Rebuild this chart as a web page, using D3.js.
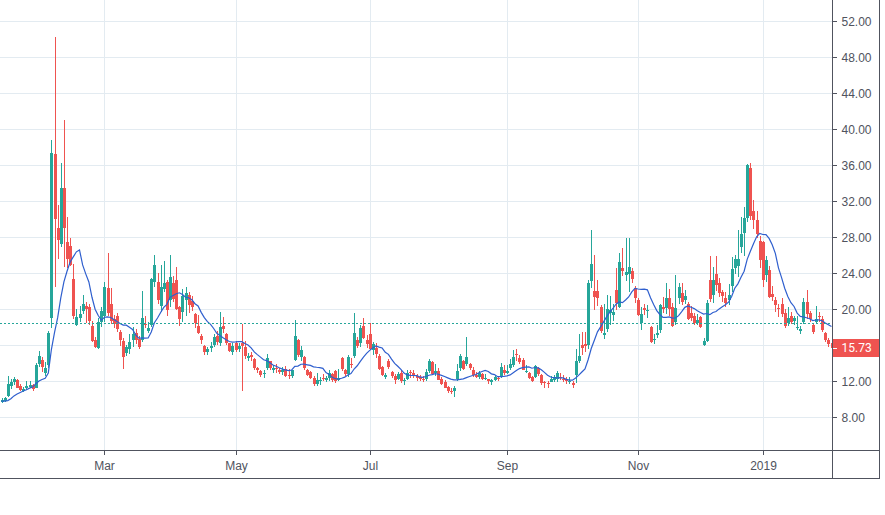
<!DOCTYPE html>
<html>
<head>
<meta charset="utf-8">
<script src="https://cdn.jsdelivr.net/npm/d3@7"></script>
<style>
  body { margin: 0; background: #fff; }
  svg { display: block; font-family: "Trebuchet MS", Roboto, sans-serif; }
</style>
</head>
<body>
<div id="chart"></div>
<script>
// trading days, one line per month (first rows only feed the moving average)
const dates = [
  "2017-12-28","2017-12-29",
  "2018-01-02","2018-01-03","2018-01-04","2018-01-05","2018-01-08","2018-01-09","2018-01-10","2018-01-11","2018-01-12","2018-01-16","2018-01-17","2018-01-18","2018-01-19","2018-01-22","2018-01-23","2018-01-24","2018-01-25","2018-01-26","2018-01-29","2018-01-30","2018-01-31",
  "2018-02-01","2018-02-02","2018-02-05","2018-02-06","2018-02-07","2018-02-08","2018-02-09","2018-02-12","2018-02-13","2018-02-14","2018-02-15","2018-02-16","2018-02-20","2018-02-21","2018-02-22","2018-02-23","2018-02-26","2018-02-27","2018-02-28",
  "2018-03-01","2018-03-02","2018-03-05","2018-03-06","2018-03-07","2018-03-08","2018-03-09","2018-03-12","2018-03-13","2018-03-14","2018-03-15","2018-03-16","2018-03-19","2018-03-20","2018-03-21","2018-03-22","2018-03-23","2018-03-26","2018-03-27","2018-03-28","2018-03-29",
  "2018-04-02","2018-04-03","2018-04-04","2018-04-05","2018-04-06","2018-04-09","2018-04-10","2018-04-11","2018-04-12","2018-04-13","2018-04-16","2018-04-17","2018-04-18","2018-04-19","2018-04-20","2018-04-23","2018-04-24","2018-04-25","2018-04-26","2018-04-27","2018-04-30",
  "2018-05-01","2018-05-02","2018-05-03","2018-05-04","2018-05-07","2018-05-08","2018-05-09","2018-05-10","2018-05-11","2018-05-14","2018-05-15","2018-05-16","2018-05-17","2018-05-18","2018-05-21","2018-05-22","2018-05-23","2018-05-24","2018-05-25","2018-05-29","2018-05-30","2018-05-31",
  "2018-06-01","2018-06-04","2018-06-05","2018-06-06","2018-06-07","2018-06-08","2018-06-11","2018-06-12","2018-06-13","2018-06-14","2018-06-15","2018-06-18","2018-06-19","2018-06-20","2018-06-21","2018-06-22","2018-06-25","2018-06-26","2018-06-27","2018-06-28","2018-06-29",
  "2018-07-02","2018-07-03","2018-07-05","2018-07-06","2018-07-09","2018-07-10","2018-07-11","2018-07-12","2018-07-13","2018-07-16","2018-07-17","2018-07-18","2018-07-19","2018-07-20","2018-07-23","2018-07-24","2018-07-25","2018-07-26","2018-07-27","2018-07-30","2018-07-31",
  "2018-08-01","2018-08-02","2018-08-03","2018-08-06","2018-08-07","2018-08-08","2018-08-09","2018-08-10","2018-08-13","2018-08-14","2018-08-15","2018-08-16","2018-08-17","2018-08-20","2018-08-21","2018-08-22","2018-08-23","2018-08-24","2018-08-27","2018-08-28","2018-08-29","2018-08-30","2018-08-31",
  "2018-09-04","2018-09-05","2018-09-06","2018-09-07","2018-09-10","2018-09-11","2018-09-12","2018-09-13","2018-09-14","2018-09-17","2018-09-18","2018-09-19","2018-09-20","2018-09-21","2018-09-24","2018-09-25","2018-09-26","2018-09-27","2018-09-28",
  "2018-10-01","2018-10-02","2018-10-03","2018-10-04","2018-10-05","2018-10-08","2018-10-09","2018-10-10","2018-10-11","2018-10-12","2018-10-15","2018-10-16","2018-10-17","2018-10-18","2018-10-19","2018-10-22","2018-10-23","2018-10-24","2018-10-25","2018-10-26","2018-10-29","2018-10-30","2018-10-31",
  "2018-11-01","2018-11-02","2018-11-05","2018-11-06","2018-11-07","2018-11-08","2018-11-09","2018-11-12","2018-11-13","2018-11-14","2018-11-15","2018-11-16","2018-11-19","2018-11-20","2018-11-21","2018-11-23","2018-11-26","2018-11-27","2018-11-28","2018-11-29","2018-11-30",
  "2018-12-03","2018-12-04","2018-12-06","2018-12-07","2018-12-10","2018-12-11","2018-12-12","2018-12-13","2018-12-14","2018-12-17","2018-12-18","2018-12-19","2018-12-20","2018-12-21","2018-12-24","2018-12-26","2018-12-27","2018-12-28","2018-12-31",
  "2019-01-02","2019-01-03","2019-01-04","2019-01-07","2019-01-08","2019-01-09","2019-01-10","2019-01-11","2019-01-14","2019-01-15","2019-01-16","2019-01-17","2019-01-18","2019-01-22","2019-01-23","2019-01-24","2019-01-25","2019-01-28","2019-01-29","2019-01-30","2019-01-31",
  "2019-02-01","2019-02-04"
];

const opens = [
  10.30, 10.20,
  10.95, 9.60, 9.10, 9.20, 9.60, 9.50, 10.30, 9.70, 9.80, 10.40, 11.50, 11.90, 12.10, 11.50, 10.90, 11.20, 11.40, 11.60, 11.30, 13.90, 14.40,
  12.90, 13.80, 19.00, 37.30, 29.00, 27.30, 33.50, 27.50, 27.00, 23.40, 18.30, 19.00, 19.80, 20.40, 20.20, 18.10, 16.60, 15.70, 18.60,
  19.20, 22.40, 20.60, 18.90, 19.30, 17.50, 16.50, 15.10, 15.60, 16.60, 17.40, 16.70, 16.60, 18.40, 17.60, 18.30, 23.00, 23.00, 20.40, 22.30, 23.00,
  21.00, 22.90, 23.30, 20.30, 19.70, 21.00, 21.60, 20.90, 19.50, 18.10, 17.00, 15.90, 15.30, 15.70, 16.00, 17.00, 16.30, 18.10, 17.20, 16.20, 15.20,
  16.30, 15.60, 16.20, 15.80, 14.60, 14.90, 14.50, 13.50, 13.10, 12.80, 13.50, 14.20, 13.30, 13.50, 13.30, 13.00, 13.40, 12.70, 12.60, 14.40, 16.60, 14.70,
  14.70, 13.20, 13.00, 12.40, 11.70, 12.00, 12.40, 12.10, 12.40, 12.80, 13.10, 12.10, 14.60, 13.20, 12.80, 13.90, 14.80, 16.60, 16.30, 18.10, 16.60,
  17.30, 15.50, 15.70, 14.80, 13.60, 12.50, 14.20, 13.00, 12.60, 12.30, 12.90, 12.00, 12.30, 13.00, 12.90, 12.60, 12.50, 12.30, 12.20, 13.10, 14.10,
  12.90, 13.10, 12.30, 11.90, 11.40, 10.90, 10.90, 12.20, 13.50, 14.30, 13.90, 13.90, 13.30, 12.70, 12.50, 12.80, 12.20, 12.20, 11.90, 12.10, 12.40, 12.60, 13.20,
  12.90, 13.50, 13.80, 15.00, 14.60, 14.40, 13.00, 12.90, 12.50, 12.50, 13.50, 12.70, 11.90, 11.80, 11.90, 12.10, 12.30, 12.50, 12.30,
  12.30, 11.90, 11.80, 12.70, 14.30, 16.00, 16.10, 16.00, 23.10, 22.00, 22.00, 20.30, 17.10, 17.80, 19.60, 19.40, 22.10, 20.30, 24.60, 23.80, 23.90, 24.20, 22.40,
  21.00, 18.50, 20.10, 19.80, 18.00, 16.60, 17.10, 17.70, 20.30, 20.10, 21.30, 20.30, 18.60, 21.20, 21.80, 21.00, 20.60, 19.60, 19.20, 18.50, 19.10,
  16.00, 16.50, 23.30, 21.60, 23.90, 22.90, 21.90, 21.20, 21.00, 22.60, 24.60, 24.80, 26.90, 28.50, 30.10, 35.70, 30.90, 29.90, 27.60,
  27.50, 23.80, 24.40, 21.70, 21.00, 20.10, 20.60, 19.60, 18.50, 19.30, 18.70, 18.00, 17.60, 18.60, 20.80, 19.60, 18.30, 18.60, 19.30, 18.90, 17.40,
  16.60, 16.20
];

const highs = [
  10.45, 11.10,
  10.99, 9.65, 9.31, 9.54, 10.00, 10.40, 10.50, 10.10, 10.30, 12.60, 12.30, 12.50, 12.20, 11.70, 11.40, 12.00, 12.00, 11.70, 14.00, 15.40, 14.70,
  14.10, 17.60, 38.80, 50.30, 31.60, 36.20, 41.06, 30.20, 27.90, 25.00, 20.00, 20.40, 21.60, 20.80, 20.60, 18.70, 16.90, 19.00, 20.20,
  23.00, 26.20, 22.40, 19.40, 19.60, 17.70, 16.80, 16.00, 17.20, 18.00, 17.80, 17.00, 22.00, 19.30, 18.60, 23.50, 26.00, 24.00, 24.90, 25.40, 23.20,
  26.00, 23.70, 24.70, 20.40, 22.20, 22.50, 21.90, 21.50, 19.60, 19.40, 17.30, 16.00, 15.80, 16.40, 17.20, 17.60, 19.70, 19.10, 17.40, 16.30, 16.20,
  16.50, 16.20, 18.40, 16.50, 15.10, 15.30, 14.60, 13.60, 13.20, 13.20, 15.00, 14.30, 13.80, 13.90, 13.50, 13.60, 13.70, 13.40, 13.30, 18.80, 16.70, 15.90,
  14.80, 13.40, 13.10, 12.60, 12.90, 12.50, 12.80, 12.60, 13.30, 12.90, 13.20, 13.40, 14.70, 13.40, 14.90, 14.60, 19.55, 16.90, 18.30, 19.00, 17.10,
  18.50, 16.40, 16.20, 15.00, 13.70, 12.90, 14.50, 13.10, 12.80, 13.00, 13.30, 12.40, 13.20, 13.30, 13.30, 12.80, 12.70, 12.60, 13.40, 14.50, 14.30,
  13.90, 13.50, 12.50, 12.10, 11.50, 11.20, 11.50, 13.90, 15.00, 14.40, 16.90, 14.00, 13.60, 13.00, 13.10, 12.90, 12.80, 12.30, 12.30, 12.70, 12.60, 14.00, 13.80,
  13.80, 14.50, 15.50, 15.60, 14.90, 14.60, 13.80, 13.00, 12.60, 13.80, 13.60, 12.80, 12.00, 12.00, 12.60, 12.70, 13.10, 12.90, 12.70,
  12.50, 12.50, 12.00, 15.60, 17.30, 17.50, 17.50, 23.20, 28.84, 26.00, 23.30, 20.50, 20.60, 21.60, 21.50, 20.60, 24.60, 26.20, 26.80, 27.90, 27.90, 24.60, 22.60,
  21.30, 20.20, 20.60, 20.50, 18.10, 17.20, 18.20, 20.60, 21.40, 22.90, 22.30, 20.70, 23.80, 22.90, 22.90, 22.10, 20.80, 20.40, 19.60, 19.50, 19.30,
  16.80, 21.00, 25.94, 24.70, 25.90, 23.50, 22.10, 21.90, 22.80, 25.80, 26.00, 28.80, 30.30, 31.40, 36.10, 36.20, 32.10, 30.90, 28.10,
  27.60, 25.90, 24.80, 22.60, 21.40, 20.60, 21.20, 20.00, 20.30, 19.70, 19.30, 19.20, 18.10, 21.20, 22.10, 19.80, 18.40, 20.40, 19.70, 19.20, 17.50,
  16.80, 16.30
];

const lows = [
  10.05, 10.10,
  9.52, 8.99, 8.92, 9.01, 9.43, 9.45, 9.70, 9.60, 9.70, 10.20, 11.10, 11.60, 11.20, 10.90, 10.80, 11.00, 11.20, 10.90, 11.20, 13.60, 13.00,
  12.60, 13.50, 17.90, 22.42, 25.60, 26.90, 24.70, 24.60, 24.80, 18.90, 18.10, 18.60, 19.50, 18.50, 18.20, 16.40, 15.70, 15.60, 18.00,
  18.60, 19.30, 18.40, 17.90, 17.50, 15.90, 13.40, 14.80, 15.00, 15.80, 16.10, 15.60, 16.40, 17.90, 17.40, 18.00, 22.50, 20.60, 19.70, 21.90, 19.30,
  20.30, 20.80, 19.90, 18.10, 18.60, 19.30, 19.60, 19.80, 17.90, 17.20, 16.10, 14.90, 14.90, 15.30, 15.80, 16.00, 15.90, 17.40, 16.00, 15.30, 14.90,
  15.30, 15.20, 10.95, 14.50, 14.30, 14.30, 13.20, 12.90, 12.50, 12.40, 13.30, 13.30, 12.90, 12.90, 12.80, 12.70, 12.50, 12.30, 12.40, 14.30, 14.70, 14.20,
  13.30, 12.60, 12.30, 11.50, 11.50, 11.60, 12.00, 11.90, 12.00, 11.90, 11.80, 12.00, 13.10, 12.60, 12.50, 13.50, 14.60, 15.70, 15.80, 16.70, 15.70,
  15.50, 14.90, 14.60, 13.30, 12.60, 12.30, 13.40, 12.40, 11.70, 12.10, 11.80, 11.60, 12.10, 12.40, 12.40, 12.00, 12.00, 11.90, 12.00, 12.90, 12.80,
  12.60, 12.10, 11.60, 11.20, 10.70, 10.60, 10.20, 12.00, 13.10, 13.20, 13.70, 13.20, 12.50, 12.40, 12.20, 12.10, 12.10, 11.70, 11.60, 12.00, 12.00, 12.40, 12.70,
  12.80, 13.20, 13.60, 14.20, 13.90, 13.20, 12.90, 12.20, 11.90, 12.40, 12.60, 11.60, 11.30, 11.20, 11.90, 11.90, 11.90, 12.10, 11.90,
  11.70, 11.70, 11.30, 11.80, 14.00, 14.90, 15.20, 15.60, 22.40, 19.90, 20.40, 17.40, 16.70, 17.50, 18.30, 18.70, 19.90, 20.10, 23.70, 23.10, 21.90, 22.90, 20.70,
  19.20, 17.70, 19.40, 19.00, 16.30, 16.10, 16.80, 17.40, 19.60, 19.50, 19.30, 18.00, 18.30, 20.60, 20.50, 20.60, 18.80, 18.70, 18.20, 18.20, 17.90,
  15.90, 16.40, 20.80, 20.70, 22.00, 21.40, 20.80, 20.20, 20.50, 21.90, 23.90, 23.60, 26.20, 25.90, 29.70, 29.90, 28.90, 27.90, 24.60,
  22.50, 23.00, 21.30, 20.90, 19.70, 19.10, 19.10, 17.90, 18.10, 18.40, 18.30, 17.70, 17.30, 18.40, 18.90, 18.60, 17.30, 18.40, 18.60, 17.50, 16.40,
  15.80, 15.60
];

const closes = [
  10.18, 11.04,
  9.77, 9.15, 9.22, 9.22, 9.52, 10.08, 9.82, 9.88, 10.16, 11.66, 11.91, 12.22, 11.27, 11.03, 11.10, 11.47, 11.58, 11.08, 13.84, 14.79, 13.54,
  13.47, 17.31, 37.32, 29.98, 27.73, 33.46, 29.06, 25.61, 24.97, 19.26, 19.13, 19.46, 20.60, 20.02, 18.72, 16.49, 15.80, 18.59, 19.85,
  22.47, 19.59, 18.73, 18.36, 17.76, 16.54, 14.64, 15.78, 16.35, 17.23, 16.59, 15.80, 19.02, 18.20, 17.86, 23.34, 24.87, 21.03, 22.50, 22.87, 19.97,
  23.62, 21.10, 20.06, 18.94, 21.49, 21.77, 20.47, 20.24, 18.49, 17.41, 16.56, 15.25, 15.60, 15.96, 16.88, 16.34, 18.02, 17.84, 16.24, 15.41, 15.93,
  15.49, 15.97, 15.90, 14.77, 14.75, 14.71, 13.42, 13.23, 12.65, 12.93, 14.63, 13.42, 13.43, 13.42, 13.08, 13.22, 12.58, 12.53, 13.22, 17.02, 14.94, 15.43,
  13.46, 12.74, 12.40, 11.64, 12.13, 12.18, 12.35, 12.34, 12.94, 12.12, 11.98, 12.31, 13.35, 12.79, 14.64, 13.77, 17.33, 15.92, 17.91, 16.85, 16.09,
  15.60, 16.14, 14.97, 13.37, 12.69, 12.64, 13.63, 12.58, 12.18, 12.83, 12.06, 12.10, 12.87, 12.86, 12.62, 12.41, 12.29, 12.14, 13.03, 14.26, 12.83,
  13.15, 12.19, 11.64, 11.27, 10.93, 10.85, 11.27, 13.16, 14.78, 13.31, 14.64, 13.45, 12.64, 12.49, 12.86, 12.25, 12.41, 11.99, 12.16, 12.50, 12.25, 13.53, 12.86,
  13.16, 13.91, 14.65, 14.88, 14.16, 13.22, 13.14, 12.37, 12.07, 13.68, 12.79, 11.75, 11.80, 11.68, 12.20, 12.42, 12.89, 12.41, 12.12,
  12.00, 12.05, 11.61, 14.22, 14.82, 15.69, 15.95, 22.96, 24.98, 21.31, 21.30, 17.62, 17.40, 20.06, 19.89, 19.64, 20.71, 25.23, 24.22, 24.16, 24.70, 23.35, 21.23,
  19.34, 19.51, 19.96, 19.91, 16.36, 16.72, 17.36, 20.45, 20.02, 21.25, 19.98, 18.14, 20.10, 22.48, 20.80, 21.52, 18.90, 19.02, 18.49, 18.79, 18.07,
  16.44, 20.74, 21.19, 23.23, 22.64, 21.76, 21.46, 20.65, 21.63, 24.52, 25.58, 25.58, 28.38, 30.11, 36.07, 30.41, 29.96, 28.34, 25.42,
  23.22, 25.45, 21.38, 21.40, 20.47, 19.98, 19.50, 18.19, 19.07, 18.60, 19.04, 18.06, 17.80, 20.80, 19.52, 18.89, 17.42, 18.87, 19.13, 17.66, 16.57,
  16.14, 15.73
];

// axis ticks
const yTicks = [8, 12, 16, 20, 24, 28, 32, 36, 40, 44, 48, 52];
const monthTicks = ["2018-03", "2018-05", "2018-07", "2018-09", "2018-11", "2019-01"];
const monthLabels = ["Mar", "May", "Jul", "Sep", "Nov", "2019"];
const maPeriod = 10;
const priceLine = 18.45;

////////////////////////////////////////////////////////////////////
const width = 885, height = 515;
const plotRight = 832, plotBottom = 450, axisBottom = 478, scaleRight = 879;

const up = "#26a69a", down = "#ef5350";
const gridColor = "#e3ebf1", axisColor = "#50535e", textColor = "#50535e";

const bars = dates.map((d, i) => ({
  i, date: d, o: opens[i], h: highs[i], l: lows[i], c: closes[i]
}));

// simple moving average of closes
bars.forEach((b, i) => {
  b.ma = i >= maPeriod - 1 ? d3.mean(closes.slice(i - maPeriod + 1, i + 1)) : null;
});

const firstShown = dates.indexOf("2018-01-11");
const x = d3.scaleLinear()
  .domain([firstShown, dates.length - 1])
  .range([1.5, 831.5]);
const y = d3.scaleLinear()
  .domain([4.3, 54.37])
  .range([plotBottom + 0.5, 0]);

const svg = d3.select("#chart").append("svg")
  .attr("width", width)
  .attr("height", height);

svg.append("defs").append("clipPath").attr("id", "plot-clip")
  .append("rect").attr("x", 0).attr("y", 0).attr("width", plotRight).attr("height", plotBottom);

// grid
const tickIdx = monthTicks.map(m => dates.findIndex(d => d.startsWith(m)));
const grid = svg.append("g").attr("shape-rendering", "crispEdges");
grid.selectAll(".hg").data(yTicks).enter().append("line")
  .attr("x1", 0).attr("x2", plotRight)
  .attr("y1", d => Math.round(y(d)) + 0.5).attr("y2", d => Math.round(y(d)) + 0.5)
  .attr("stroke", gridColor);
grid.selectAll(".vg").data(tickIdx).enter().append("line")
  .attr("x1", d => Math.round(x(d)) + 0.5).attr("x2", d => Math.round(x(d)) + 0.5)
  .attr("y1", 0).attr("y2", plotBottom)
  .attr("stroke", gridColor);

// candles
const plot = svg.append("g").attr("clip-path", "url(#plot-clip)");
const candles = plot.append("g").attr("shape-rendering", "crispEdges")
  .selectAll("g").data(bars).enter().append("g")
  .attr("fill", d => d.c >= d.o ? up : down);

candles.append("rect")
  .attr("x", d => Math.round(x(d.i)))
  .attr("width", 1)
  .attr("y", d => y(d.h))
  .attr("height", d => Math.max(1, y(d.l) - y(d.h)));

candles.append("rect")
  .attr("x", d => Math.round(x(d.i)) - 1)
  .attr("width", 3)
  .attr("y", d => y(Math.max(d.o, d.c)))
  .attr("height", d => Math.max(1, Math.abs(y(d.o) - y(d.c))));

// moving average
const line = d3.line()
  .defined(d => d.ma !== null)
  .x(d => x(d.i))
  .y(d => y(d.ma));

plot.append("path")
  .datum(bars)
  .attr("fill", "none")
  .attr("stroke", "#2f5fce")
  .attr("stroke-width", 1.2)
  .attr("d", line);

// dashed price line
plot.append("line")
  .attr("x1", 0).attr("x2", plotRight)
  .attr("y1", Math.round(y(priceLine)) + 0.5).attr("y2", Math.round(y(priceLine)) + 0.5)
  .attr("stroke", up)
  .attr("stroke-dasharray", "2,2")
  .attr("shape-rendering", "crispEdges");

// axis frame
const frame = svg.append("g").attr("stroke", axisColor).attr("shape-rendering", "crispEdges");
frame.append("line").attr("x1", plotRight + 0.5).attr("x2", plotRight + 0.5).attr("y1", 0).attr("y2", axisBottom);
frame.append("line").attr("x1", scaleRight + 0.5).attr("x2", scaleRight + 0.5).attr("y1", 0).attr("y2", axisBottom);
frame.append("line").attr("x1", 0).attr("x2", scaleRight + 1).attr("y1", plotBottom + 0.5).attr("y2", plotBottom + 0.5);
frame.append("line").attr("x1", 0).attr("x2", scaleRight + 1).attr("y1", axisBottom + 0.5).attr("y2", axisBottom + 0.5);

// last price (its label hides the scale label underneath, as in the reference)
const last = bars[bars.length - 1];
const ly = Math.round(y(last.c));

// price scale
const yAxis = d3.axisRight(y)
  .tickValues(yTicks)
  .tickFormat(d3.format(".2f"))
  .tickSize(4)
  .tickPadding(5);

const yG = svg.append("g")
  .attr("transform", `translate(${plotRight + 0.5},0)`)
  .call(yAxis);
yG.select(".domain").remove();
yG.selectAll(".tick").filter(d => Math.abs(y(d) - ly) < 14).remove();
yG.selectAll(".tick line").attr("stroke", axisColor).attr("shape-rendering", "crispEdges");
yG.selectAll(".tick text").attr("fill", textColor).attr("font-size", 12).attr("font-family", null);

// time scale
const xAxis = d3.axisBottom(x)
  .tickValues(tickIdx)
  .tickFormat((d, i) => monthLabels[i])
  .tickSize(4)
  .tickPadding(7);

const xG = svg.append("g")
  .attr("transform", `translate(0,${plotBottom + 0.5})`)
  .call(xAxis);
xG.select(".domain").remove();
xG.selectAll(".tick").attr("transform", d => `translate(${Math.round(x(d)) + 0.5},0)`);
xG.selectAll(".tick line").attr("stroke", axisColor).attr("shape-rendering", "crispEdges");
xG.selectAll(".tick text").attr("fill", textColor).attr("font-size", 12).attr("font-family", null);

// last price label
const label = svg.append("g");
label.append("rect")
  .attr("x", plotRight + 1).attr("y", ly - 9)
  .attr("width", scaleRight - plotRight - 1).attr("height", 18)
  .attr("fill", down);
label.append("line")
  .attr("x1", plotRight + 1).attr("x2", plotRight + 5)
  .attr("y1", ly + 0.5).attr("y2", ly + 0.5)
  .attr("stroke", "#fff").attr("shape-rendering", "crispEdges");
label.append("text")
  .attr("x", plotRight + 9.5).attr("y", ly)
  .attr("dy", "0.35em")
  .attr("fill", "#fff")
  .attr("font-size", 12)
  .text(last.c.toFixed(2));
</script>
</body>
</html>
